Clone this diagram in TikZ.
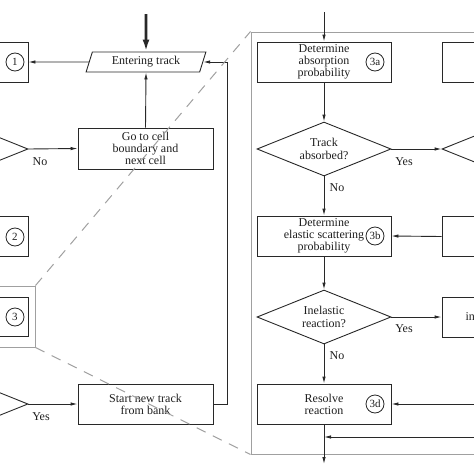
\documentclass[tikz,border=0pt]{standalone}
\usepackage{fontspec}
\setmainfont{Liberation Serif}
\definecolor{fcline}{RGB}{40,40,40}
\definecolor{fcframe}{RGB}{160,160,160}
\definecolor{fctext}{RGB}{30,30,30}
\usetikzlibrary{arrows.meta,positioning,shapes.geometric,calc}

\begin{document}
\begin{tikzpicture}[
  x=1pt, y=-1pt,
  procbox/.style={
    rectangle,
    minimum width=134pt, minimum height=40pt,
    draw=fcline, line width=0.9pt,
    inner sep=0pt,
    font=\fontsize{12}{12}\selectfont,
    align=center,
    text=fctext
  },
  decide/.style={
    diamond, aspect=2.5,
    minimum width=134pt, minimum height=54pt,
    draw=fcline, line width=0.9pt,
    inner sep=0pt,
    font=\fontsize{12}{13}\selectfont,
    align=center,
    text=fctext
  },
  stepnum/.style={
    circle, minimum size=18pt, inner sep=0pt,
    draw=fcline, line width=0.8pt,
    font=\fontsize{11}{11}\selectfont,
    text=fctext
  },
  zoomframe/.style={draw=fcframe, line width=1pt, inner sep=0pt},
  zoomline/.style={draw=fcframe, line width=1pt, dash pattern=on 10pt off 8pt},
  lbl/.style={font=\fontsize{12}{12}\selectfont, text=fctext},
  conn/.style={-{Latex[length=7pt,width=3.5pt]}, line width=0.9pt, draw=fcline}
]
\useasboundingbox (0,0) rectangle (474,474);
\clip (0,0) rectangle (474,474);

% left part of the chart
\node[procbox, minimum width=68pt] (box1) at (-6,62)    {};
\node[stepnum] (num1) at (15,62) {1};
\node[decide]  (ldia1) at (-39,149) {};
\node[procbox, minimum width=68pt] (box2) at (-6,236)   {};
\node[stepnum] (num2) at (15,237) {2};
\node[zoomframe, minimum width=65pt, minimum height=61pt] (frame3) at (2.5,316.5) {};
\node[procbox, minimum width=58pt, minimum height=39pt] (box3) at (-1,316.5) {};
\node[stepnum] (num3) at (15,317) {3};
\node[decide]  (ldia2) at (-39,404) {};

\node[trapezium, trapezium left angle=70, trapezium right angle=110,
      trapezium stretches=true, minimum width=120pt, minimum height=20pt,
      draw=fcline, line width=0.9pt, inner sep=0pt,
      font=\fontsize{12}{12}\selectfont, text=fctext] (enter) at (146,62) {Entering track};
\node[procbox, minimum width=135pt, minimum height=41pt] (goto) at (145.5,148.5) {Go to cell\\boundary and\\next cell};
\node[procbox, minimum width=135pt] (newtrack) at (145.5,404) {Start new track\\from bank};

\coordinate (feedtop) at (146,14);
\draw[-{Latex[length=12pt,width=7pt]}, line width=2.6pt, draw=fcline] (feedtop) -- (enter.north);
\draw[conn] (enter.west) -- (box1.east);
\draw[conn] (goto.north) -- (enter.south);
\draw[conn] (ldia1.east) -- (goto.west);
\draw[conn] (ldia2.east) -- (newtrack.west);
\draw[conn] (newtrack.east) -- ++(14,0) |- (enter.east);

\node[lbl] (no1)  at (40,162)  {No};
\node[lbl] (yes1) at (41,417)  {Yes};

% zoomed detail of step 3
\node[zoomframe, minimum width=309pt, minimum height=422pt] (detail) at (405.5,243) {};
\draw[zoomline] (frame3.north east) -- (detail.north west);
\draw[zoomline] (frame3.south east) -- (detail.south west);

\node[procbox] (s3a) at (324,62)  {Determine\\absorption\\probability};
\node[stepnum] (n3a) at (375,62)  {3a};
\node[decide]  (absorbed) at (324,149) {Track\\absorbed?};
\node[procbox] (s3b) at (324,236) {Determine\\elastic scattering\\probability};
\node[stepnum] (n3b) at (375,236) {3b};
\node[decide]  (inelastic) at (324,317) {Inelastic\\reaction?};
\node[procbox] (s3d) at (324,404) {Resolve\\reaction};
\node[stepnum] (n3d) at (375,404) {3d};

\node[procbox] (rbox1) at (509,62)  {};
\node[decide]  (rdia)  at (509,149) {};
\node[procbox] (rbox2) at (509,236.5) {};
\node[procbox] (rbox3) at (509,317) {};
\node[lbl, anchor=west] (rbox3txt) at (462,317) {in};

\coordinate (entrytop) at (324,12);
\coordinate (resin)    at (480,404);
\coordinate (mergein)  at (480,437);
\coordinate (mergept)  at (324,437);
\coordinate (exitpt)   at (324,464);

\draw[conn] (entrytop) -- (s3a.north);
\draw[conn] (s3a.south) -- (absorbed.north);
\draw[conn] (absorbed.east) -- (rdia.west);
\draw[conn] (absorbed.south) -- (s3b.north);
\draw[conn] (rbox2.west) -- (s3b.east);
\draw[conn] (s3b.south) -- (inelastic.north);
\draw[conn] (inelastic.east) -- (rbox3.west);
\draw[conn] (inelastic.south) -- (s3d.north);
\draw[conn] (resin) -- (s3d.east);
\draw[conn] (mergein) -- (mergept);
\draw[conn] (s3d.south) -- (exitpt);

\node[lbl] (yes2) at (404,162) {Yes};
\node[lbl] (no2)  at (337,188) {No};
\node[lbl] (yes3) at (404,329) {Yes};
\node[lbl] (no3)  at (337,356) {No};
\end{tikzpicture}
\end{document}
